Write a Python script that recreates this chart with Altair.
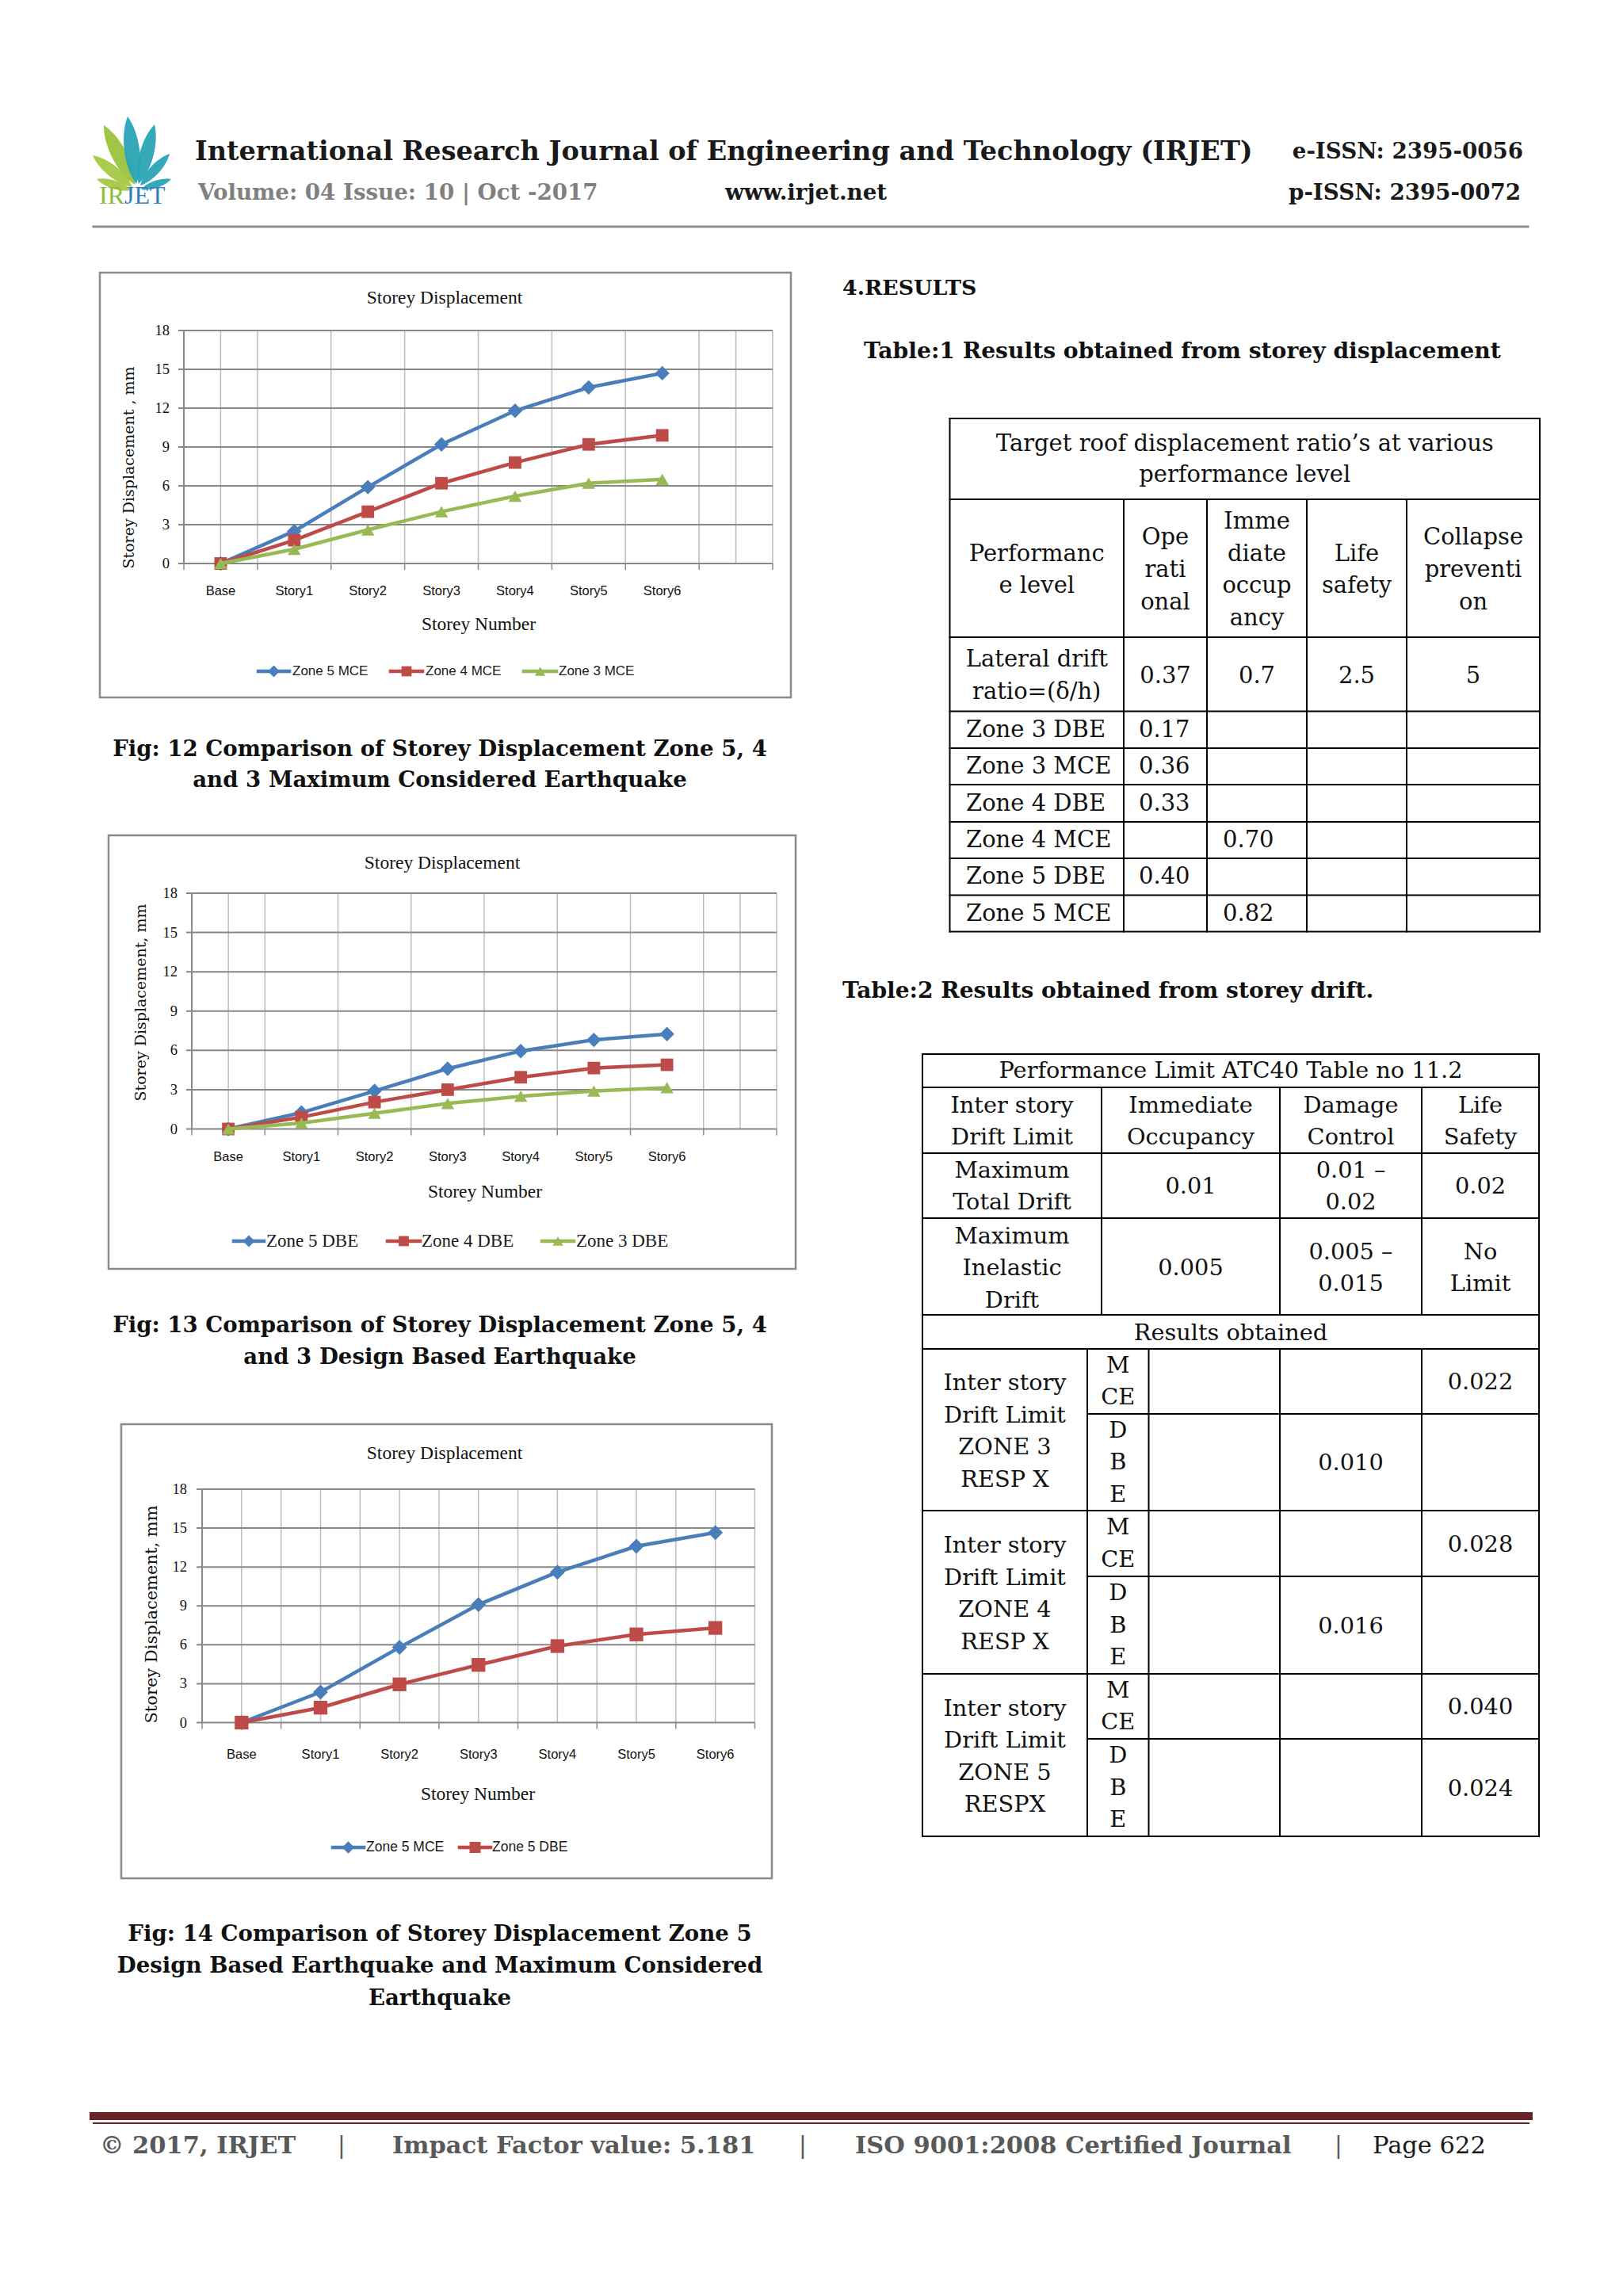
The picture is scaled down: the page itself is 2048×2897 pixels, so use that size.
import math
import altair as alt
import pandas as pd

MARGIN = 8
PAGE_W, PAGE_H = 2032, 2875


def P(v):
    return v - MARGIN


one = pd.DataFrame({"k": [0]})

# ---------------- data ----------------
storeys = ["Base", "Story1", "Story2", "Story3", "Story4", "Story5", "Story6"]
y_ticks = [0, 3, 6, 9, 12, 15, 18]

fig12_names = ["Zone 5 MCE", "Zone 4 MCE", "Zone 3 MCE"]
zone5_mce = [0, 2.5, 5.9, 9.2, 11.8, 13.6, 14.7]
zone4_mce = [0, 1.8, 4.0, 6.2, 7.8, 9.2, 9.9]
zone3_mce = [0, 1.1, 2.6, 4.0, 5.2, 6.2, 6.5]

fig13_names = ["Zone 5 DBE", "Zone 4 DBE", "Zone 3 DBE"]
zone5_dbe = [0, 1.25, 2.9, 4.6, 5.95, 6.8, 7.25]
zone4_dbe = [0, 0.9, 2.05, 3.0, 3.95, 4.65, 4.9]
zone3_dbe = [0, 0.45, 1.2, 1.95, 2.5, 2.9, 3.15]

fig14_names = ["Zone 5 MCE", "Zone 5 DBE"]
fig14_mce = [0, 2.35, 5.8, 9.1, 11.6, 13.6, 14.65]
fig14_dbe = [0, 1.15, 2.95, 4.45, 5.9, 6.8, 7.3]

# Table 1
t1_title = ["Target roof displacement ratio\u2019s at various", "performance level"]
t1_head = [["Performanc", "e level"], ["Ope", "rati", "onal"], ["Imme", "diate", "occup", "ancy"],
           ["Life", "safety"], ["Collapse", "preventi", "on"]]
t1_drift_label = ["Lateral drift", "ratio=(\u03b4/h)"]
t1_drift_vals = ["0.37", "0.7", "2.5", "5"]
t1_rows = ["Zone 3 DBE", "Zone 3 MCE", "Zone 4 DBE", "Zone 4 MCE", "Zone 5 DBE", "Zone 5 MCE"]
t1_operational = ["0.17", "0.36", "0.33", "", "0.40", ""]
t1_immediate = ["", "", "", "0.70", "", "0.82"]

# Table 2
t2_title = "Performance Limit ATC40 Table no 11.2"
t2_head = [["Inter story", "Drift Limit"], ["Immediate", "Occupancy"], ["Damage", "Control"], ["Life", "Safety"]]
t2_total = [["Maximum", "Total Drift"], ["0.01"], ["0.01 \u2013", "0.02"], ["0.02"]]
t2_inelastic = [["Maximum", "Inelastic", "Drift"], ["0.005"], ["0.005 \u2013", "0.015"], ["No", "Limit"]]
t2_results = "Results obtained"
t2_blocks = [["Inter story", "Drift Limit", "ZONE 3", "RESP X"],
             ["Inter story", "Drift Limit", "ZONE 4", "RESP X"],
             ["Inter story", "Drift Limit", "ZONE 5", "RESPX"]]
t2_mce = [["", "", "0.022"], ["", "", "0.028"], ["", "", "0.040"]]
t2_dbe = [["", "0.010", ""], ["", "0.016", ""], ["", "", "0.024"]]

BLUE, RED, GREEN = "#4a7ebb", "#be4b48", "#98b954"
SERIF = "DejaVu Serif"


# ---------------- helpers ----------------
def text(s, x, y, size, font=SERIF, weight="normal", color="#111111", align="center",
         baseline="middle", angle=None, lh=None):
    kw = dict(text=s, font=font, fontSize=size, fontWeight=weight, color=color,
              align=align, baseline=baseline)
    if angle is not None:
        kw["angle"] = angle
    if isinstance(s, list):
        if lh is None:
            lh = size * 1.4
        kw["lineHeight"] = lh
        y = y - (len(s) - 1) * lh / 2.0
    return alt.Chart(one).mark_text(**kw).encode(x=alt.value(P(x)), y=alt.value(P(y)))


def hrule(x1, x2, y, color="#000000", w=2):
    return alt.Chart(one).mark_rule(color=color, strokeWidth=w, strokeCap="square").encode(
        x=alt.value(P(x1)), x2=alt.value(P(x2)), y=alt.value(P(y)))


def vrule(x, y1, y2, color="#000000", w=2):
    return alt.Chart(one).mark_rule(color=color, strokeWidth=w, strokeCap="square").encode(
        x=alt.value(P(x)), y=alt.value(P(y1)), y2=alt.value(P(y2)))


def box(x1, y1, x2, y2, stroke, w, fill="#ffffff"):
    return alt.Chart(one).mark_rect(fill=fill, stroke=stroke, strokeWidth=w).encode(
        x=alt.value(P(x1)), x2=alt.value(P(x2)), y=alt.value(P(y1)), y2=alt.value(P(y2)))


LEAF = "M0,1 C0.32,0.45 0.28,-0.5 0,-1 C-0.28,-0.5 -0.32,0.45 0,1 Z"


def leaf(bx, by, tx, ty, color):
    mx, my = (bx + tx) / 2, (by + ty) / 2
    L = math.hypot(tx - bx, ty - by)
    ang = math.degrees(math.atan2(tx - bx, -(ty - by))) % 360
    return alt.Chart(one).mark_point(shape=LEAF, filled=True, color=color, opacity=0.95,
                                     size=L * L, angle=ang, strokeWidth=0).encode(
        x=alt.value(P(mx)), y=alt.value(P(my)))


def panel(cfg, series):
    L, R, T, B = cfg["plot"]
    n = cfg["slots"]
    xs = alt.Scale(domain=[0, n], range=[P(L), P(R)], nice=False, zero=False)
    ys = alt.Scale(domain=[0, 18], range=[P(B), P(T)], nice=False, zero=False)

    def X(f):
        return alt.X(f, scale=xs, axis=None)

    def Y(f):
        return alt.Y(f, scale=ys, axis=None)

    fx1, fy1, fx2, fy2 = cfg["frame"]
    parts = [box(fx1, fy1, fx2, fy2, "#8a8a8a", 2.5)]
    vgrid = list(range(n + 1)) + cfg["centre_lines"]
    parts.append(alt.Chart(pd.DataFrame({"g": vgrid})).mark_rule(color="#bcbcbc", strokeWidth=1.5).encode(
        x=X("g:Q"), y=alt.value(P(T)), y2=alt.value(P(B))))
    parts.append(alt.Chart(pd.DataFrame({"g": list(range(n + 1))})).mark_rule(color="#8c8c8c", strokeWidth=1.5).encode(
        x=X("g:Q"), y=alt.value(P(B)), y2=alt.value(P(B) + 8)))
    hg = pd.DataFrame({"t": y_ticks})
    parts.append(alt.Chart(hg).mark_rule(color="#878787", strokeWidth=2).encode(
        y=Y("t:Q"), x=alt.value(P(L) - 7), x2=alt.value(P(R))))
    parts.append(vrule(L, T, B, "#8a8a8a", 2))
    parts.append(alt.Chart(hg).mark_text(align="right", baseline="middle", font="Liberation Serif",
                                         fontSize=18.5, color="#111111").encode(
        y=Y("t:Q"), x=alt.value(P(cfg["ylab_x"])), text="t:Q"))
    cats = pd.DataFrame({"pos": [i + 0.5 for i in range(len(storeys))], "cat": storeys})
    parts.append(alt.Chart(cats).mark_text(baseline="middle", font="Liberation Sans", fontSize=16.5,
                                           color="#111111").encode(
        x=X("pos:Q"), y=alt.value(P(cfg["xlab_y"])), text="cat:N"))
    for name, vals, col, shp, size in series:
        df = pd.DataFrame({"pos": [i + 0.5 for i in range(len(vals))], "v": vals})
        parts.append(alt.Chart(df).mark_line(color=col, strokeWidth=4.5).encode(x=X("pos:Q"), y=Y("v:Q")))
        parts.append(alt.Chart(df).mark_point(shape=shp, filled=True, color=col, opacity=1, size=size).encode(
            x=X("pos:Q"), y=Y("v:Q")))
    tx, ty = cfg["title"]
    parts.append(text("Storey Displacement", tx, ty, 23.5, font="Liberation Serif"))
    xx, xy = cfg["xtitle"]
    parts.append(text("Storey Number", xx, xy, 23.5, font="Liberation Serif"))
    yx, yy, ylabel, ysize = cfg["ytitle"]
    parts.append(text(ylabel, yx, yy, ysize, font=SERIF, angle=270))
    lfont, lsize = cfg["legend_font"]
    ly = cfg["legend_y"]
    for (name, vals, col, shp, size), (a, b, tpos) in zip(series, cfg["legend"]):
        parts.append(hrule(a, b, ly, col, 4.5))
        parts.append(alt.Chart(one).mark_point(shape=shp, filled=True, color=col, opacity=1,
                                               size=size * 0.65).encode(
            x=alt.value(P((a + b) / 2)), y=alt.value(P(ly))))
        parts.append(text(name, tpos, ly, lsize, font=lfont, align="left", color="#1a1a1a"))
    return alt.layer(*parts)


# ---------------- page ----------------
page = []

# logo
for (bx, by, tx, ty, c) in [
    (166, 240, 122, 226, "#a6c845"), (167, 236, 117, 196, "#a6c845"), (170, 233, 131, 158, "#9cc23c"),
    (172, 232, 161, 147, "#2aa4b6"), (175, 232, 195, 157, "#2aa4b6"), (177, 234, 214, 194, "#2aa4b6"),
    (178, 239, 216, 226, "#2aa4b6")]:
    page.append(leaf(bx, by, tx, ty, c))
page.append(text("IR", 157, 247, 32, font="Liberation Serif", color="#8dbb3b", align="right"))
page.append(text("JET", 157, 247, 32, font="Liberation Serif", color="#2d7fc1", align="left"))

page.append(text("International Research Journal of Engineering and Technology (IRJET)", 246, 192, 33.5,
                 weight="bold", align="left", color="#1a1a1a"))
page.append(text("e-ISSN: 2395-0056", 1922, 192, 27.7, weight="bold", align="right", color="#1a1a1a"))
page.append(text("Volume: 04 Issue: 10 | Oct -2017", 250, 244, 27.7, weight="bold", align="left", color="#808080"))
page.append(text("www.irjet.net", 915, 244, 27.7, weight="bold", align="left", color="#1a1a1a"))
page.append(text("p-ISSN: 2395-0072", 1919, 244, 27.7, weight="bold", align="right", color="#1a1a1a"))
page.append(hrule(118, 1928, 286, "#8c8c8c", 3))

# captions
CAP = 27.6
page.append(text(["Fig: 12 Comparison of Storey Displacement Zone 5, 4",
                  "and 3 Maximum Considered Earthquake"], 555, 965.5, CAP, weight="bold", lh=39))
page.append(text(["Fig: 13 Comparison of Storey Displacement Zone 5, 4",
                  "and 3 Design Based Earthquake"], 555, 1693, CAP, weight="bold", lh=40))
page.append(text(["Fig: 14 Comparison of Storey Displacement Zone 5",
                  "Design Based Earthquake and Maximum Considered", "Earthquake"], 555, 2481, CAP,
                 weight="bold", lh=40.5))

# right column headings
page.append(text("4.RESULTS", 1063, 364, 26.8, weight="bold", align="left"))
page.append(text("Table:1 Results obtained from storey displacement", 1090, 444, 28.2, weight="bold", align="left"))
page.append(text("Table:2 Results obtained from storey drift.", 1063, 1251, 28.1, weight="bold", align="left"))

# ---- Table 1 ----
c1 = [1198.5, 1418, 1523, 1649, 1775, 1943]
r1 = [528, 630, 804, 897.5, 944, 990, 1037, 1083, 1129.5, 1175.5]
for y in r1:
    page.append(hrule(c1[0], c1[-1], y))
page.append(vrule(c1[0], r1[0], r1[-1]))
page.append(vrule(c1[-1], r1[0], r1[-1]))
for x in c1[1:-1]:
    page.append(vrule(x, r1[1], r1[-1]))
T1 = 29
LH1 = 40.6
page.append(text(t1_title, (c1[0] + c1[-1]) / 2, (r1[0] + r1[1]) / 2, T1, lh=39))
for i, lines in enumerate(t1_head):
    page.append(text(lines, (c1[i] + c1[i + 1]) / 2, (r1[1] + r1[2]) / 2 + 2, T1, lh=LH1))
page.append(text(t1_drift_label, (c1[0] + c1[1]) / 2, (r1[2] + r1[3]) / 2 + 2, T1, lh=LH1))
for i, v in enumerate(t1_drift_vals):
    page.append(text(v, (c1[i + 1] + c1[i + 2]) / 2, (r1[2] + r1[3]) / 2 + 2, T1))
for j, name in enumerate(t1_rows):
    yc = (r1[3 + j] + r1[4 + j]) / 2
    page.append(text(name, 1219, yc, T1, align="left"))
    if t1_operational[j]:
        page.append(text(t1_operational[j], 1437, yc, T1, align="left"))
    if t1_immediate[j]:
        page.append(text(t1_immediate[j], 1543, yc, T1, align="left"))

# ---- Table 2 ----
T2 = 28.8
LH2 = 40.5
L2, R2 = 1164, 1942
rows2 = [1330, 1372, 1455, 1537, 1659, 1702, 1906, 2112, 2317]
for y in rows2:
    page.append(hrule(L2, R2, y))
page.append(vrule(L2, rows2[0], rows2[-1]))
page.append(vrule(R2, rows2[0], rows2[-1]))
hc = [1164, 1390, 1615, 1794, 1942]
for x in hc[1:-1]:
    page.append(vrule(x, 1372, 1659))
rc = [1164, 1372, 1449.5, 1615, 1794, 1942]
for x in rc[1:-1]:
    page.append(vrule(x, 1702, 2317))
blocks = [(1702, 1784, 1906), (1906, 1989, 2112), (2112, 2194, 2317)]
for top, mid, bot in blocks:
    page.append(hrule(1372, R2, mid))

page.append(text(t2_title, (L2 + R2) / 2, 1351, T2))
for i, lines in enumerate(t2_head):
    page.append(text(lines, (hc[i] + hc[i + 1]) / 2, 1415, T2, lh=LH2))
for i, lines in enumerate(t2_total):
    page.append(text(lines, (hc[i] + hc[i + 1]) / 2, 1497, T2, lh=LH2))
for i, lines in enumerate(t2_inelastic):
    page.append(text(lines, (hc[i] + hc[i + 1]) / 2, 1600, T2, lh=LH2))
page.append(text(t2_results, (L2 + R2) / 2, 1682, T2))
for k, (top, mid, bot) in enumerate(blocks):
    page.append(text(t2_blocks[k], (rc[0] + rc[1]) / 2, (top + bot) / 2 + 2, T2, lh=LH2))
    page.append(text(["M", "CE"], (rc[1] + rc[2]) / 2, (top + mid) / 2, T2, lh=LH2))
    page.append(text(["D", "B", "E"], (rc[1] + rc[2]) / 2, (mid + bot) / 2, T2, lh=LH2))
    for i in range(3):
        if t2_mce[k][i]:
            page.append(text(t2_mce[k][i], (rc[2 + i] + rc[3 + i]) / 2, (top + mid) / 2 + 1, T2))
        if t2_dbe[k][i]:
            page.append(text(t2_dbe[k][i], (rc[2 + i] + rc[3 + i]) / 2, (mid + bot) / 2 + 1, T2))

# footer
page.append(hrule(118, 1929, 2670, "#6b2226", 10))
page.append(hrule(118, 1929, 2679, "#6b2226", 2))
FT = 30.5
page.append(text("\u00a9 2017, IRJET", 126, 2708, FT, weight="bold", align="left", color="#595959"))
page.append(text("|", 431, 2708, FT, align="center", color="#595959"))
page.append(text("Impact Factor value: 5.181", 495, 2708, FT, weight="bold", align="left", color="#595959"))
page.append(text("|", 1013, 2708, FT, align="center", color="#595959"))
page.append(text("ISO 9001:2008 Certified Journal", 1079, 2708, FT, weight="bold", align="left", color="#595959"))
page.append(text("|", 1689, 2708, FT, align="center", color="#595959"))
page.append(text("Page 622", 1732, 2708, FT, align="left", color="#1a1a1a"))

# ---------------- charts ----------------
cfg12 = dict(frame=(126, 344, 998, 880), plot=(232, 975, 417, 711), slots=8, centre_lines=[0.5, 7.5],
             ylab_x=214, xlab_y=746, title=(561, 376), xtitle=(604, 788),
             ytitle=(163, 590, "Storey Displacement , mm", 19), legend_y=847,
             legend=[(326, 365, 369), (493, 533, 537), (661, 702, 705)], legend_font=("Liberation Sans", 17))
cfg13 = dict(frame=(137, 1054, 1004, 1601), plot=(242, 980, 1127, 1424.5), slots=8, centre_lines=[0.5, 7.5],
             ylab_x=224, xlab_y=1460, title=(558, 1089), xtitle=(612, 1504),
             ytitle=(178, 1265, "Storey Displacement, mm", 19), legend_y=1566,
             legend=[(295, 333, 336), (489, 530, 532), (684, 724, 727)], legend_font=("Liberation Serif", 23))
cfg14 = dict(frame=(153, 1797, 974, 2370), plot=(255, 952.5, 1879, 2173.5), slots=7,
             centre_lines=[i + 0.5 for i in range(7)],
             ylab_x=236, xlab_y=2214, title=(561, 1834), xtitle=(603, 2264),
             ytitle=(192, 2037, "Storey Displacement, mm", 21), legend_y=2331,
             legend=[(420, 459, 462), (580, 619, 621)], legend_font=("Liberation Sans", 17.5))

p12 = panel(cfg12, [(fig12_names[0], zone5_mce, BLUE, "diamond", 340),
                    (fig12_names[1], zone4_mce, RED, "square", 250),
                    (fig12_names[2], zone3_mce, GREEN, "triangle-up", 270)])
p13 = panel(cfg13, [(fig13_names[0], zone5_dbe, BLUE, "diamond", 340),
                    (fig13_names[1], zone4_dbe, RED, "square", 250),
                    (fig13_names[2], zone3_dbe, GREEN, "triangle-up", 270)])
p14 = panel(cfg14, [(fig14_names[0], fig14_mce, BLUE, "diamond", 360),
                    (fig14_names[1], fig14_dbe, RED, "square", 300)])

chart = alt.layer(*page, p12, p13, p14).resolve_scale(
    x="independent", y="independent"
).properties(
    width=PAGE_W, height=PAGE_H, padding=0, background="#ffffff",
    autosize=alt.AutoSizeParams(type="none"),
).configure_view(stroke=None)

chart.save("out.html", embed_options={"renderer": "svg", "actions": False})
